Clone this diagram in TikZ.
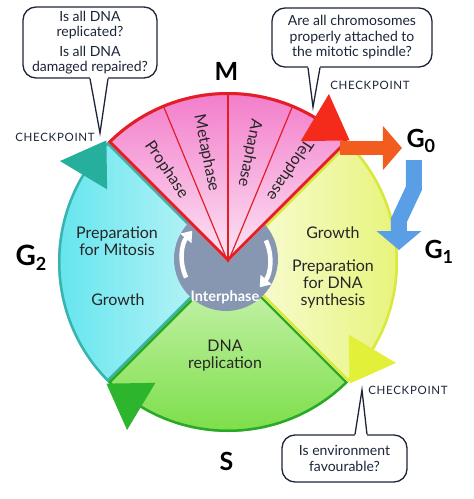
\documentclass[tikz,border=0pt]{standalone}
\usepackage{fontspec}
\setmainfont{Lato}
\newfontfamily\ckfont[LetterSpace=6]{Lato}
\usetikzlibrary{arrows.meta,positioning,calc}

\definecolor{ink}{HTML}{1C2538}
\definecolor{g2dark}{HTML}{5CE4EE}
\definecolor{g2light}{HTML}{C6F5F7}
\definecolor{g2edge}{HTML}{38B4AC}
\definecolor{g2tip}{HTML}{27AF9D}
\definecolor{sdark}{HTML}{74DC3E}
\definecolor{slight}{HTML}{D0F5B8}
\definecolor{sedge}{HTML}{2AA82A}
\definecolor{stip}{HTML}{2EB52E}
\definecolor{g1dark}{HTML}{E6F370}
\definecolor{g1light}{HTML}{FAFDE2}
\definecolor{g1edge}{HTML}{D8E83C}
\definecolor{g1tip}{HTML}{E3F03A}
\definecolor{mdark}{HTML}{F272C6}
\definecolor{mlight}{HTML}{FCE6F5}
\definecolor{mred}{HTML}{E31E24}
\definecolor{mtip}{HTML}{F42A1A}
\definecolor{inter}{HTML}{8797B2}
\definecolor{g0col}{HTML}{F35C1F}
\definecolor{g1arrow}{HTML}{5A9FE6}

\newcommand\gsub[1]{\raisebox{-5pt}{\fontsize{18}{18}\selectfont #1}}

\begin{document}
\begin{tikzpicture}[x=1pt,y=1pt,
  g2sec/.style={left color=g2dark, right color=g2light, draw=g2edge, line width=5pt},
  ssec/.style={bottom color=sdark, top color=slight, draw=sedge, line width=5pt},
  g1sec/.style={right color=g1dark, left color=g1light, draw=g1edge, line width=5pt},
  msec/.style={top color=mdark, bottom color=mlight, draw=mred, line width=6pt},
  g2head/.style={fill=g2tip}, shead/.style={fill=stip},
  g1head/.style={fill=g1tip}, mhead/.style={fill=mtip},
  bubble/.style={draw=ink, line width=1.3pt, rounded corners=13pt, fill=white,
    align=center, text=ink, inner sep=0pt, font=\fontsize{14}{15.5}\selectfont},
  ckpt/.style={text=ink, font=\ckfont\fontsize{11.5}{13}\selectfont},
  phasetext/.style={align=center, text=black!85, font=\fontsize{16}{17}\selectfont},
  phase/.style={text=black!85, font=\fontsize{16}{16}\selectfont},
  big/.style={font=\fontsize{25}{25}\selectfont\bfseries}]
\useasboundingbox (-228,-237) rectangle (246,262);

% Interphase sectors
\foreach \s/\e/\sty in {225/135/g2sec, 315/225/ssec, 45/-45/g1sec} {
  \begin{scope}
    \clip (0,0) -- (\s:170) arc[start angle=\s, end angle=\e, radius=170pt] -- cycle;
    \path[\sty] (0,0) -- (\s:170) arc[start angle=\s, end angle=\e, radius=170pt] -- cycle;
  \end{scope}
}

% Interphase core
\node[circle, fill=inter, minimum size=104pt, inner sep=0pt] (core) at (-2,3) {};
\draw[white, line width=4.5pt, -{Triangle[length=10pt,width=14pt]}]
  ([shift={(205:44)}]core.center) arc[start angle=205, end angle=140, radius=44pt];
\draw[white, line width=4.5pt, -{Triangle[length=10pt,width=14pt]}]
  ([shift={(25:44)}]core.center) arc[start angle=25, end angle=-40, radius=44pt];
\node[text=white, font=\fontsize{14.5}{15}\selectfont\bfseries] (interlbl) at (-3,-35) {Interphase};

% Mitosis
\begin{scope}
  \clip (0,0) -- (135:170) arc[start angle=135, end angle=45, radius=170pt] -- cycle;
  \path[msec] (0,0) -- (135:170) arc[start angle=135, end angle=45, radius=170pt] -- cycle;
\end{scope}
\foreach \a in {67.5,90,112.5}
  \draw[mred, line width=1.2pt] (0,0) -- (\a:169);
\foreach \a/\ph in {123.75/Prophase, 101.25/Metaphase, 78.75/Anaphase, 56.25/Telophase}
  \node[phase, rotate=\a-180] (\ph) at (\a:111) {\ph};

% G0 arrow
\coordinate (g0start) at (112,114);
\coordinate (g0tip) at (174,114);
\draw[g0col, line width=14pt, -{Triangle[length=19pt,width=43pt]}] (g0start) -- (g0tip);

% Checkpoint heads
\foreach \e/\sty in {135/g2head, 45/mhead, -45/g1head, 225/shead}
  \path[\sty] (\e:172) -- ({\e+14}:141) -- ({\e+14}:196) -- cycle;

% G0 back to G1
\coordinate (b0) at (186,102);
\coordinate (b1) at (186,74);
\coordinate (b2) at (171,42);
\coordinate (b3) at (171,12);
\draw[g1arrow, line width=16pt, -{Triangle[length=19pt,width=44pt]}] (b0) -- (b1) -- (b2) -- (b3);

% Phase names
\node[big, anchor=base] (mlbl) at (-1.5,182) {M};
\node[big, anchor=base] (slbl) at (-1.5,-208) {S};
\node[big, anchor=base west] (g0lbl) at (175,115) {G\gsub{0}};
\node[big, anchor=base west] (g1lbl) at (193,4) {G\gsub{1}};
\node[big, anchor=base west, font=\fontsize{28}{28}\selectfont\bfseries] (g2lbl) at (-216,-3) {G\gsub{2}};

% Sector texts
\node[phasetext] (g2prep) at (-111,21) {Preparation\\for Mitosis};
\node[phasetext] (g2grow) at (-110,-38) {Growth};
\node[phasetext] (g1grow) at (105,29) {Growth};
\node[phasetext] (g1prep) at (105,-22) {Preparation\\for DNA\\synthesis};
\node[phasetext] (srep) at (-3,-94) {DNA\\replication};

% Questions
\node[bubble, minimum width=134pt, minimum height=71pt] (ask1) at (-138,219.5)
  {Is all DNA\\replicated?\\[4pt]Is all DNA\\damaged repaired?};
\coordinate (tip1) at (-128,129);
\fill[white] ($(ask1.south)+(0,2)$) -- (tip1) -- ($(ask1.south)+(18,2)$) -- cycle;
\draw[ink, line width=1.3pt] (ask1.south) -- (tip1) -- ($(ask1.south)+(18,0)$);

\node[bubble, minimum width=160pt, minimum height=59pt] (ask2) at (124,224.5)
  {Are all chromosomes\\properly attached to\\the mitotic spindle?};
\coordinate (tip2) at (85,155);
\fill[white] ($(ask2.south)+(-44,2)$) -- (tip2) -- ($(ask2.south)+(-32,2)$) -- cycle;
\draw[ink, line width=1.3pt] ($(ask2.south)+(-44,0)$) -- (tip2) -- ($(ask2.south)+(-32,0)$);

\node[bubble, minimum width=125pt, minimum height=47pt] (ask3) at (116.5,-196.5)
  {Is environment\\favourable?};
\coordinate (tip3) at (134,-128);
\fill[white] ($(ask3.north)+(10.5,-2)$) -- (tip3) -- ($(ask3.north)+(22.5,-2)$) -- cycle;
\draw[ink, line width=1.3pt] ($(ask3.north)+(10.5,0)$) -- (tip3) -- ($(ask3.north)+(22.5,0)$);

\node[ckpt] (ck1) at (-173,125) {CHECKPOINT};
\node[ckpt] (ck2) at (142,177) {CHECKPOINT};
\node[ckpt] (ck3) at (180,-128) {CHECKPOINT};
\end{tikzpicture}
\end{document}
